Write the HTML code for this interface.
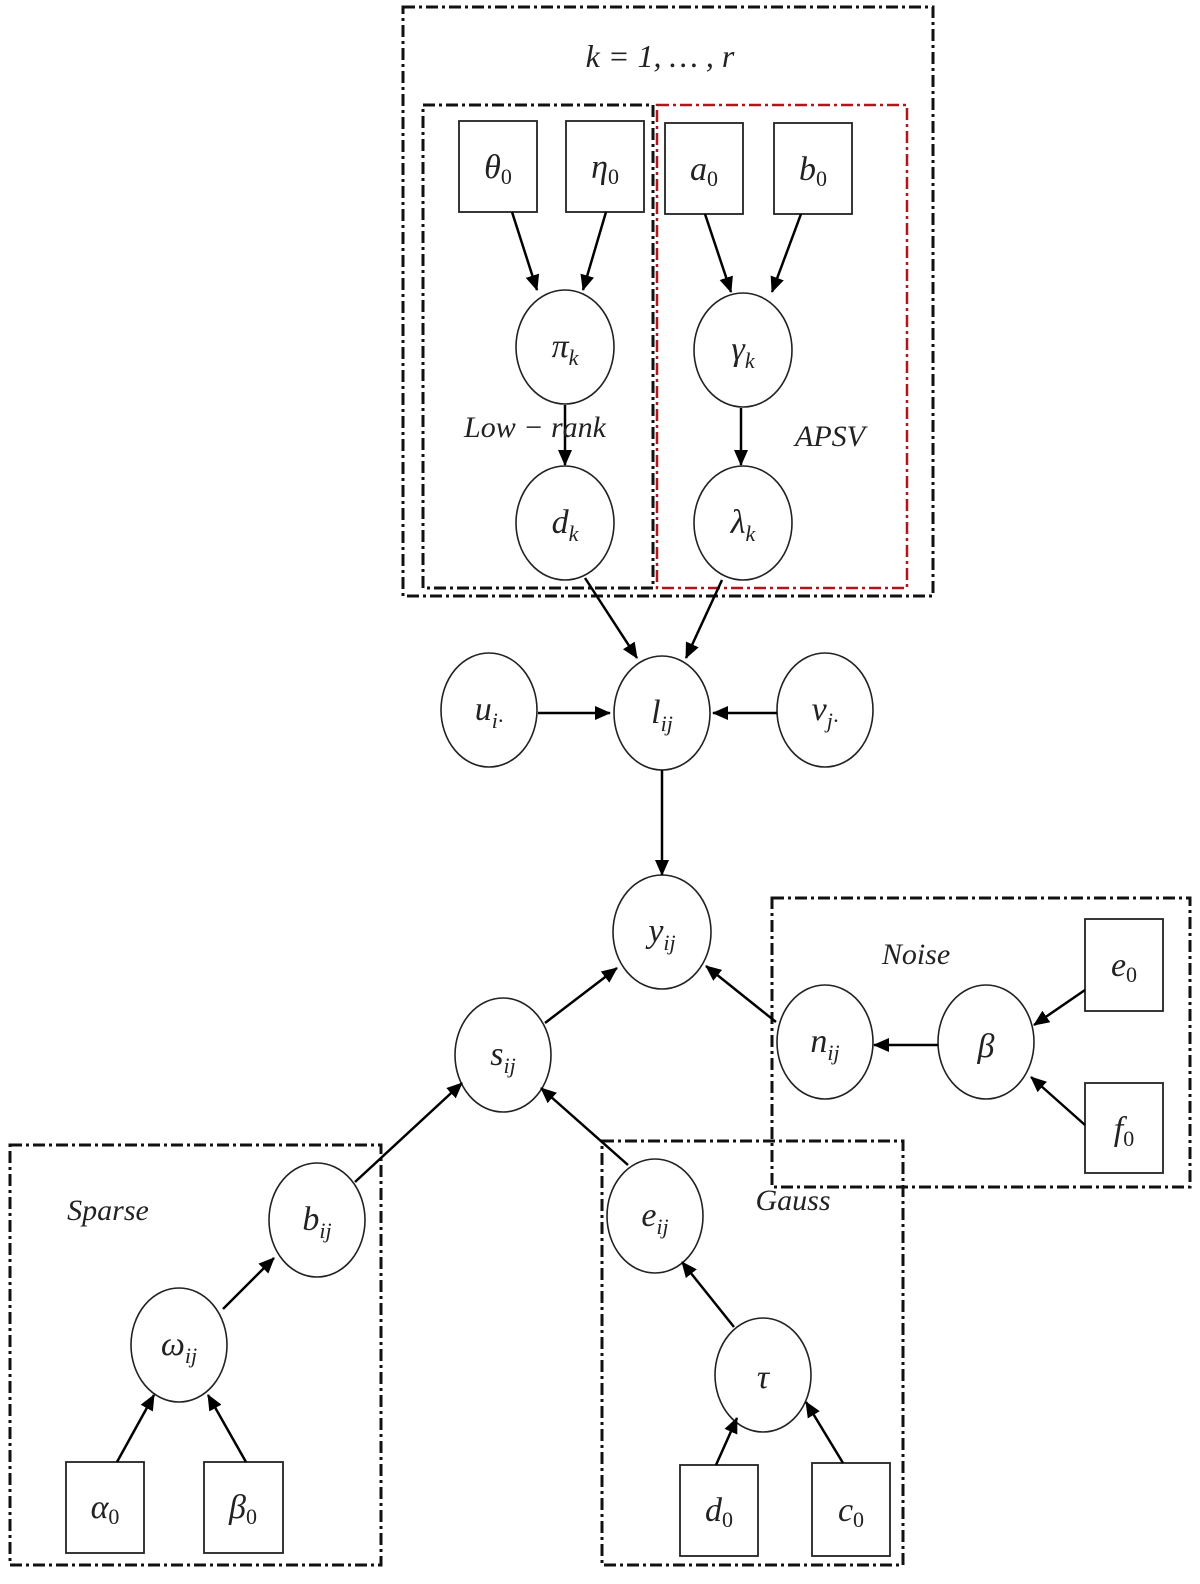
<!DOCTYPE html>
<html><head><meta charset="utf-8"><style>
html,body{margin:0;padding:0;background:#fff;}
svg text{font-family:"Liberation Serif","DejaVu Serif",serif;font-style:italic;fill:#222;}
</style></head><body>
<svg width="1200" height="1579" viewBox="0 0 1200 1579" xmlns="http://www.w3.org/2000/svg">
<defs>
<marker id="ah" markerWidth="16" markerHeight="14" refX="15" refY="7" orient="auto" markerUnits="userSpaceOnUse" viewBox="0 0 16 14">
<path d="M0,0 L16,7 L0,14 z" fill="#000"/>
</marker>
</defs>
<g fill="none" stroke-width="3" stroke-dasharray="12,4,3,4">
<rect x="403" y="7" width="530" height="589" stroke="#111"/>
<rect x="423" y="105" width="230" height="483" stroke="#111"/>
<rect x="657" y="105" width="250" height="483" stroke="#b0141c" stroke-width="2.5"/>
<rect x="772" y="898" width="418" height="289" stroke="#111"/>
<rect x="10" y="1145" width="371" height="420" stroke="#111"/>
<rect x="602" y="1141" width="301" height="424" stroke="#111"/>
</g>
<g fill="#fff" stroke="#222" stroke-width="1.8">
<rect x="459" y="121" width="78" height="91"/>
<rect x="566" y="121" width="78" height="91"/>
<rect x="665" y="123" width="78" height="91"/>
<rect x="774" y="123" width="78" height="91"/>
<rect x="1085" y="919" width="78" height="92"/>
<rect x="1085" y="1083" width="78" height="90"/>
<rect x="66" y="1462" width="78" height="91"/>
<rect x="204" y="1462" width="79" height="91"/>
<rect x="680" y="1465" width="78" height="91"/>
<rect x="812" y="1463" width="78" height="93"/>
</g>
<g fill="#fff" stroke="#222" stroke-width="1.6">
<ellipse cx="565" cy="347" rx="49" ry="57"/>
<ellipse cx="743" cy="350" rx="49" ry="57"/>
<ellipse cx="565" cy="523" rx="49" ry="57"/>
<ellipse cx="743" cy="523" rx="49" ry="57"/>
<ellipse cx="662" cy="713" rx="48" ry="57"/>
<ellipse cx="489" cy="710" rx="48" ry="57"/>
<ellipse cx="825" cy="710" rx="48" ry="57"/>
<ellipse cx="662" cy="932" rx="49" ry="57"/>
<ellipse cx="503" cy="1055" rx="48" ry="57"/>
<ellipse cx="825" cy="1042" rx="48" ry="57"/>
<ellipse cx="986" cy="1042" rx="48" ry="57"/>
<ellipse cx="317" cy="1220" rx="48" ry="57"/>
<ellipse cx="179" cy="1345" rx="48" ry="57"/>
<ellipse cx="655" cy="1216" rx="48" ry="57"/>
<ellipse cx="763" cy="1375" rx="48" ry="57"/>
</g>
<g stroke="#000" stroke-width="2.5" marker-end="url(#ah)">
<line x1="512" y1="212" x2="537" y2="290"/>
<line x1="606" y1="212" x2="583" y2="290"/>
<line x1="705" y1="214" x2="731" y2="292"/>
<line x1="801" y1="214" x2="772" y2="292"/>
<line x1="565" y1="405" x2="565" y2="465"/>
<line x1="741" y1="408" x2="741" y2="465"/>
<line x1="585" y1="578" x2="637" y2="658"/>
<line x1="722" y1="580" x2="686" y2="658"/>
<line x1="538" y1="713" x2="610" y2="713"/>
<line x1="777" y1="713" x2="713" y2="713"/>
<line x1="662" y1="770" x2="662" y2="875"/>
<line x1="545" y1="1023" x2="617" y2="968"/>
<line x1="776" y1="1022" x2="706" y2="966"/>
<line x1="938" y1="1045" x2="874" y2="1045"/>
<line x1="1085" y1="990" x2="1034" y2="1025"/>
<line x1="1085" y1="1125" x2="1031" y2="1077"/>
<line x1="355" y1="1182" x2="462" y2="1083"/>
<line x1="628" y1="1165" x2="541" y2="1088"/>
<line x1="223" y1="1309" x2="274" y2="1258"/>
<line x1="117" y1="1462" x2="154" y2="1395"/>
<line x1="246" y1="1462" x2="208" y2="1395"/>
<line x1="734" y1="1327" x2="682" y2="1262"/>
<line x1="716" y1="1465" x2="737" y2="1418"/>
<line x1="843" y1="1463" x2="806" y2="1402"/>
</g>
<g font-size="34" text-anchor="middle">
<text x="660" y="67" font-size="32">k = 1, … , r</text>
<text x="498" y="178">θ<tspan font-size="22" font-style="normal" dy="6">0</tspan></text>
<text x="605" y="178">η<tspan font-size="22" font-style="normal" dy="6">0</tspan></text>
<text x="704" y="180">a<tspan font-size="22" font-style="normal" dy="6">0</tspan></text>
<text x="813" y="180">b<tspan font-size="22" font-style="normal" dy="6">0</tspan></text>
<text x="565" y="357">π<tspan font-size="22" dy="8">k</tspan></text>
<text x="743" y="360">γ<tspan font-size="22" dy="8">k</tspan></text>
<text x="535" y="437" font-size="30">Low − rank</text>
<text x="830" y="446" font-size="30">APSV</text>
<text x="565" y="533">d<tspan font-size="22" dy="8">k</tspan></text>
<text x="743" y="533">λ<tspan font-size="22" dy="8">k</tspan></text>
<text x="662" y="723">l<tspan font-size="22" dy="8">ij</tspan></text>
<text x="489" y="720">u<tspan font-size="22" dy="8">i·</tspan></text>
<text x="825" y="720">v<tspan font-size="22" dy="8">j·</tspan></text>
<text x="662" y="942">y<tspan font-size="22" dy="8">ij</tspan></text>
<text x="503" y="1065">s<tspan font-size="22" dy="8">ij</tspan></text>
<text x="825" y="1052">n<tspan font-size="22" dy="8">ij</tspan></text>
<text x="986" y="1057">β</text>
<text x="916" y="964" font-size="30">Noise</text>
<text x="1124" y="976">e<tspan font-size="22" font-style="normal" dy="6">0</tspan></text>
<text x="1124" y="1140">f<tspan font-size="22" font-style="normal" dy="6">0</tspan></text>
<text x="108" y="1220" font-size="30">Sparse</text>
<text x="793" y="1210" font-size="30">Gauss</text>
<text x="317" y="1230">b<tspan font-size="22" dy="8">ij</tspan></text>
<text x="179" y="1355">ω<tspan font-size="22" dy="8">ij</tspan></text>
<text x="655" y="1226">e<tspan font-size="22" dy="8">ij</tspan></text>
<text x="763" y="1388">τ</text>
<text x="105" y="1518">α<tspan font-size="22" font-style="normal" dy="6">0</tspan></text>
<text x="243" y="1518">β<tspan font-size="22" font-style="normal" dy="6">0</tspan></text>
<text x="719" y="1521">d<tspan font-size="22" font-style="normal" dy="6">0</tspan></text>
<text x="851" y="1521">c<tspan font-size="22" font-style="normal" dy="6">0</tspan></text>
</g>
</svg>
</body></html>
